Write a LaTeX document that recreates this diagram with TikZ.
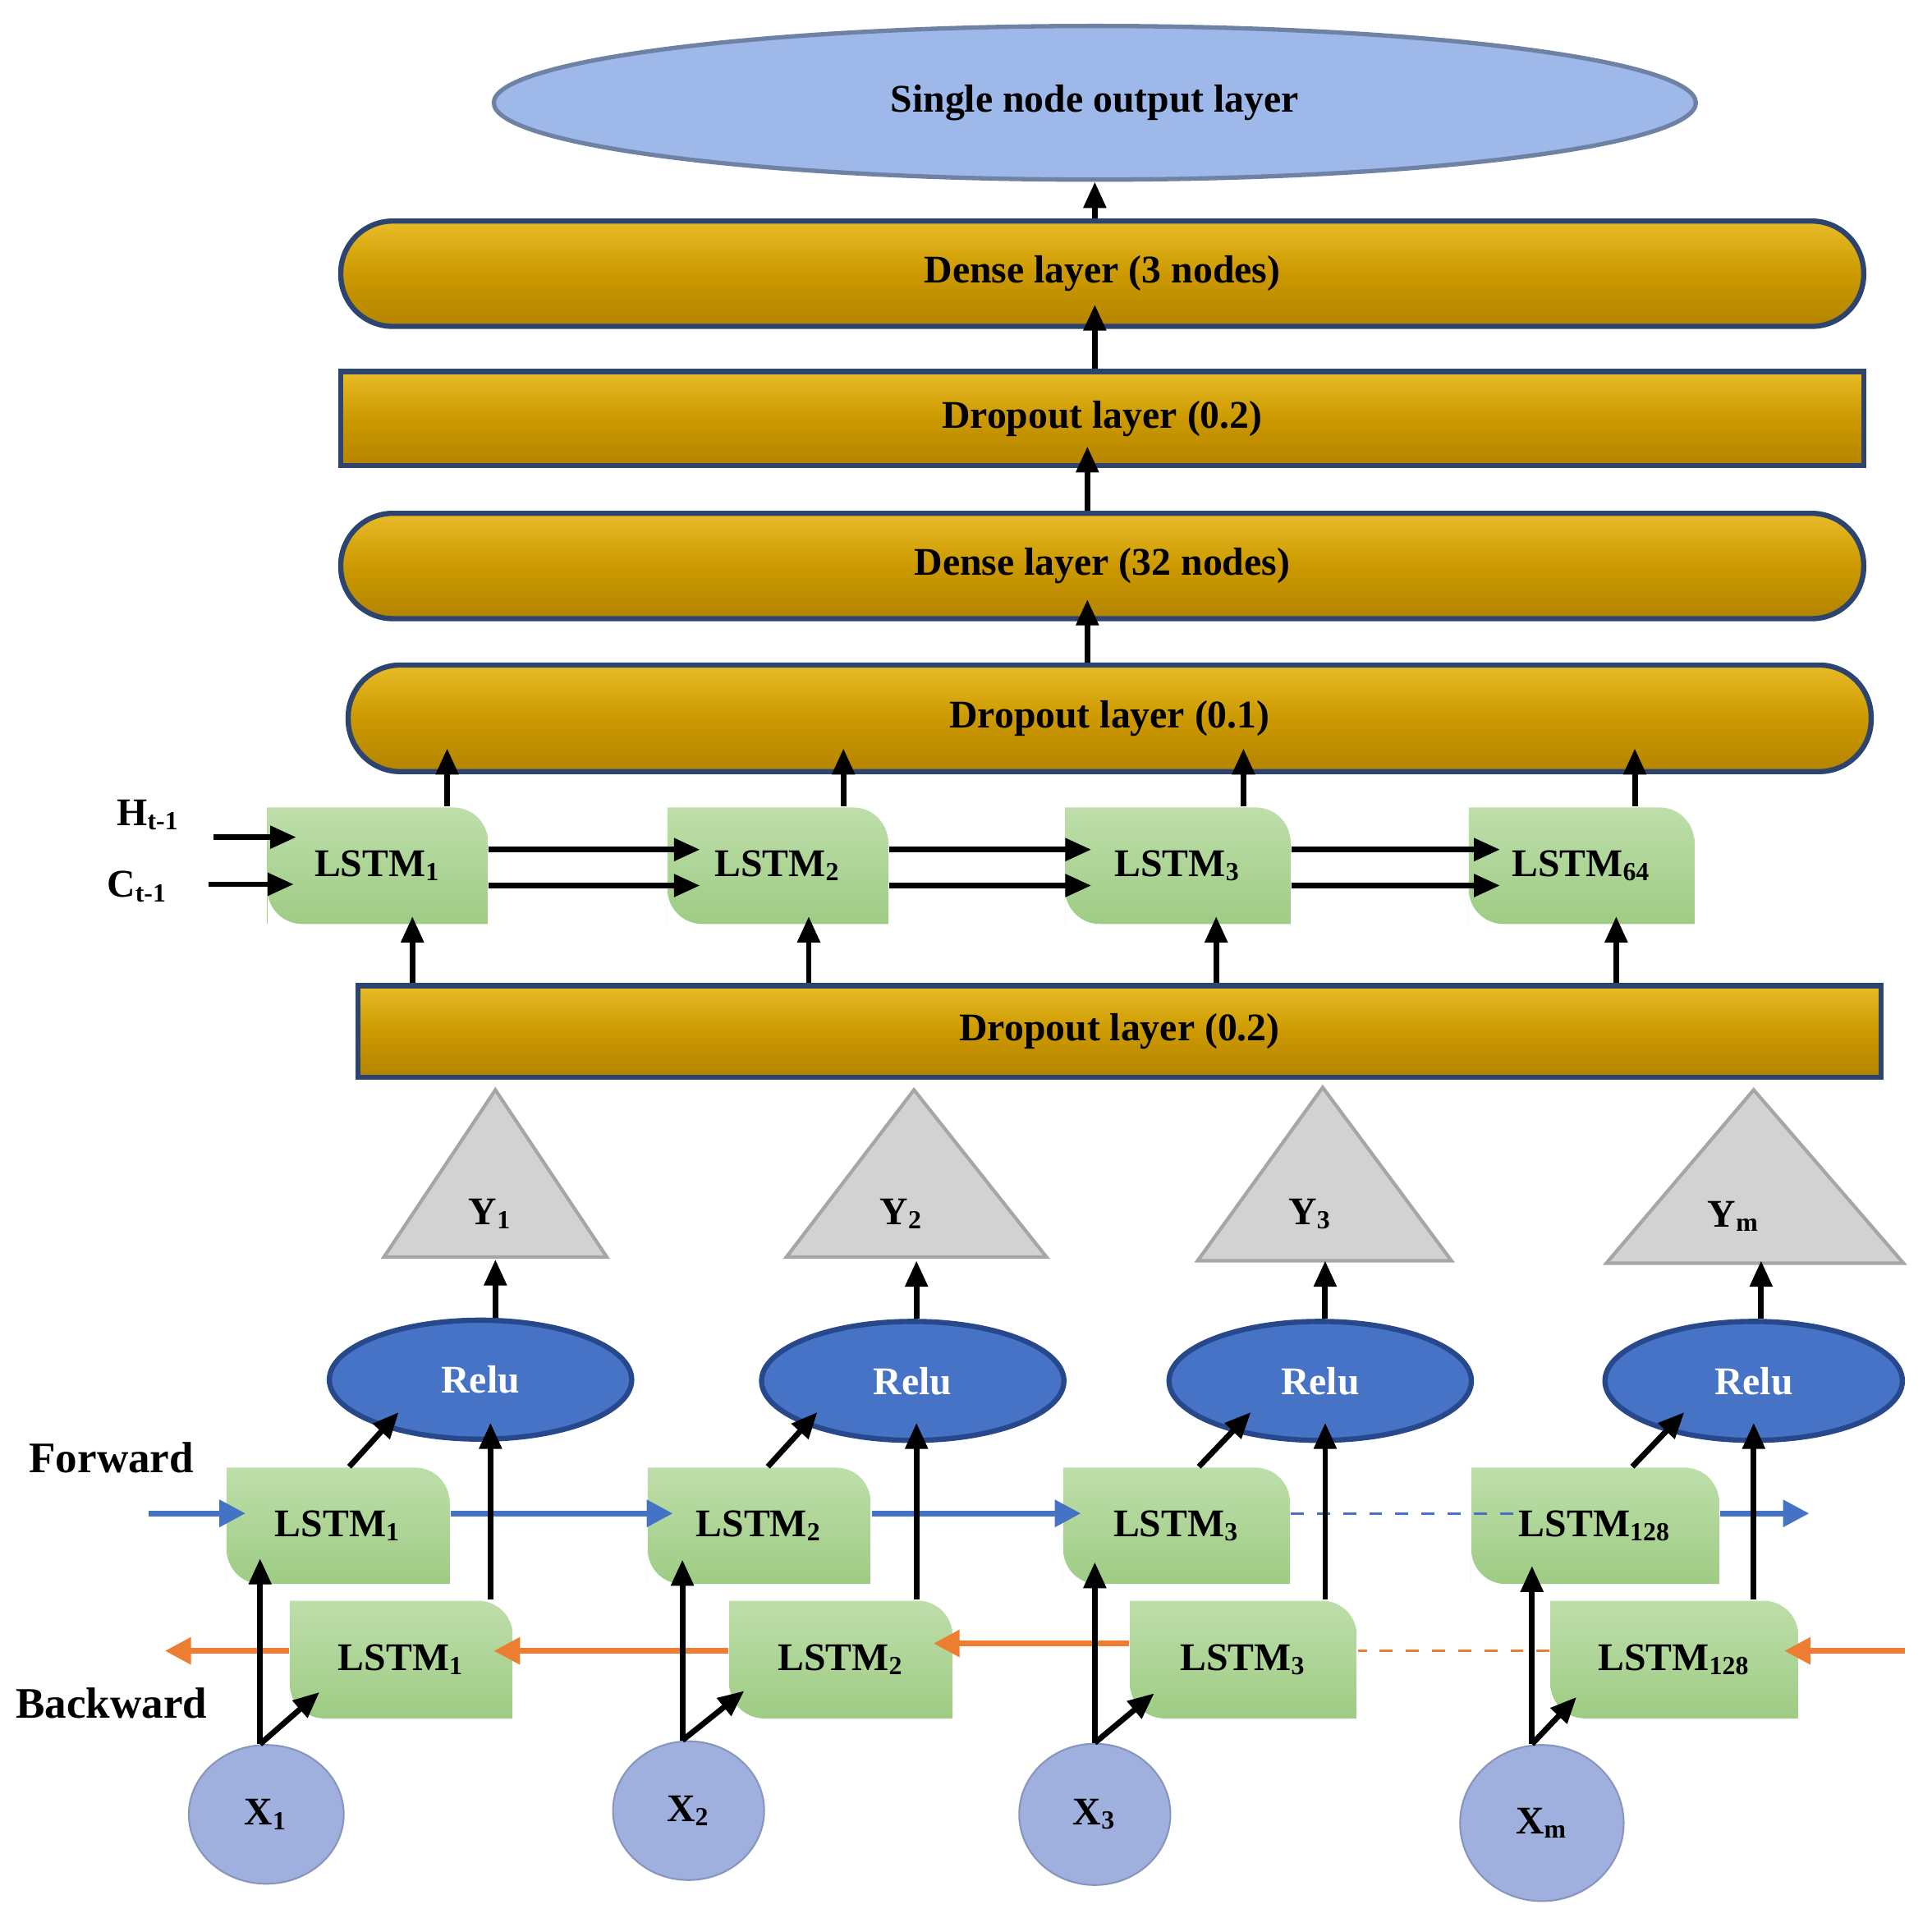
\documentclass[tikz,border=0pt]{standalone}
\usepackage{fontspec}
\setmainfont{Liberation Serif}
\usetikzlibrary{arrows.meta,shapes.geometric}
\definecolor{gold}{RGB}{204,153,0}
\definecolor{goldlight}{RGB}{232,188,40}
\definecolor{golddark}{RGB}{180,132,0}
\definecolor{navy}{RGB}{45,68,110}
\definecolor{lstmtop}{RGB}{190,222,170}
\definecolor{lstmbot}{RGB}{158,204,132}
\definecolor{relublue}{RGB}{70,115,198}
\definecolor{reluedge}{RGB}{40,72,140}
\definecolor{xblue}{RGB}{160,176,222}
\definecolor{outblue}{RGB}{158,184,234}
\definecolor{fwdblue}{RGB}{68,114,196}
\definecolor{bwdorange}{RGB}{237,125,49}
\tikzset{
  lbl/.style={font=\fontsize{9}{10}\selectfont\bfseries},
  bar/.style={draw=navy, line width=1.2pt, top color=goldlight, bottom color=golddark,
    middle color=gold, minimum width=12.29cm, inner sep=0pt, lbl},
  lstm/.style={minimum height=0.94cm, inner sep=0pt, lbl,
    path picture={\shade[top color=lstmtop, bottom color=lstmbot]
      (path picture bounding box.south west) -- (path picture bounding box.north west)
      [rounded corners=0.28cm] -- (path picture bounding box.north east)
      [sharp corners] -- (path picture bounding box.south east)
      [rounded corners=0.28cm] -- (path picture bounding box.south west)
      [sharp corners] -- cycle;}},
  relu/.style={ellipse, draw=reluedge, line width=1.2pt, fill=relublue, text=white,
    minimum width=2.44cm, minimum height=0.96cm, lbl},
  xin/.style={ellipse, fill=xblue, draw=xblue!85!black, line width=0.4pt, inner sep=0pt, lbl},
  tri/.style={fill=gray!35, draw=gray!70, line width=0.8pt},
  arr/.style={-{Triangle[length=6pt,width=5pt]}, line width=1.3pt},
  fwd/.style={-{Triangle[length=6pt,width=6pt]}, line width=1.3pt, fwdblue},
  bwd/.style={-{Triangle[length=6pt,width=6pt]}, line width=1.3pt, bwdorange},
}
\begin{document}
\begin{tikzpicture}[x=0.01cm,y=-0.01cm]
\useasboundingbox (0,0) rectangle (1560,1541);

% output and dense/dropout stack
\node[ellipse, draw=outblue!70!black, line width=1pt, fill=outblue, minimum width=9.7cm,
  minimum height=1.24cm, lbl] (out) at (884,83) {Single node output layer};
\node[bar, rounded corners=0.42cm, minimum height=0.85cm] (d3) at (890,221) {Dense layer (3 nodes)};
\node[bar, minimum height=0.76cm] (dr2) at (890,338) {Dropout layer (0.2)};
\node[bar, rounded corners=0.42cm, minimum height=0.85cm] (d32) at (890,457) {Dense layer (32 nodes)};
\node[bar, rounded corners=0.42cm, minimum height=0.86cm] (dr1) at (896,580) {Dropout layer (0.1)};
\node[bar, minimum height=0.74cm] (dr0) at (904,833) {Dropout layer (0.2)};

\draw[arr] (d3.north -| out.south) -- (out.south);
\draw[arr] (dr2.north -| out.south) -- +(0,-52);
\draw[arr] ([xshift=-0.12cm]d32.north) -- +(0,-52);
\draw[arr] ([xshift=-0.18cm]dr1.north) -- +(0,-51);

% upper LSTM layer
\node[lstm, minimum width=1.78cm] (t1) at (305,699) {LSTM\textsubscript{1}};
\node[lstm, minimum width=1.78cm] (t2) at (628,699) {LSTM\textsubscript{2}};
\node[lstm, minimum width=1.82cm] (t3) at (951,699) {LSTM\textsubscript{3}};
\node[lstm, minimum width=1.82cm] (t4) at (1277,699) {LSTM\textsubscript{64}};
\node[lbl, anchor=west] (h) at (82,658) {H\textsubscript{t-1}};
\node[lbl, anchor=west] (c) at (74,716) {C\textsubscript{t-1}};

\draw[arr] ([xshift=-0.43cm,yshift=0.23cm]t1.west) -- ([xshift=0.24cm,yshift=0.23cm]t1.west);
\draw[arr] ([xshift=-0.47cm,yshift=-0.15cm]t1.west) -- ([xshift=0.22cm,yshift=-0.15cm]t1.west);
\draw[arr] ([yshift=0.13cm]t1.east) -- ([xshift=0.27cm,yshift=0.13cm]t2.west);
\draw[arr] ([yshift=-0.16cm]t1.east) -- ([xshift=0.27cm,yshift=-0.16cm]t2.west);
\draw[arr] ([yshift=0.13cm]t2.east) -- ([xshift=0.22cm,yshift=0.13cm]t3.west);
\draw[arr] ([yshift=-0.16cm]t2.east) -- ([xshift=0.22cm,yshift=-0.16cm]t3.west);
\draw[arr] ([yshift=0.13cm]t3.east) -- ([xshift=0.26cm,yshift=0.13cm]t4.west);
\draw[arr] ([yshift=-0.16cm]t3.east) -- ([xshift=0.26cm,yshift=-0.16cm]t4.west);

\draw[arr] ([xshift=0.56cm]t1.north) -- +(0,-47);
\draw[arr] ([xshift=0.53cm]t2.north) -- +(0,-47);
\draw[arr] ([xshift=0.53cm]t3.north) -- +(0,-47);
\draw[arr] ([xshift=0.43cm]t4.north) -- +(0,-47);
\draw[arr] (dr0.north -| 333,0) -- +(0,-54);
\draw[arr] (dr0.north -| 653,0) -- +(0,-54);
\draw[arr] (dr0.north -| 982,0) -- +(0,-54);
\draw[arr] (dr0.north -| 1305,0) -- +(0,-54);

% outputs Y
\draw[tri] (400,880) -- (490,1015) -- (310,1015) -- cycle;
\draw[tri] (738,880) -- (845,1015) -- (635,1015) -- cycle;
\draw[tri] (1068,878) -- (1172,1018) -- (967,1018) -- cycle;
\draw[tri] (1416,880) -- (1537,1020) -- (1297,1020) -- cycle;
\node[lbl] (y1) at (396,980) {Y\textsubscript{1}};
\node[lbl] (y2) at (728,980) {Y\textsubscript{2}};
\node[lbl] (y3) at (1058,980) {Y\textsubscript{3}};
\node[lbl] (y4) at (1400,982) {Y\textsubscript{m}};

% relu
\node[relu] (r1) at (388,1114) {Relu};
\node[relu] (r2) at (737,1115) {Relu};
\node[relu] (r3) at (1066,1115) {Relu};
\node[relu, minimum width=2.4cm] (r4) at (1416,1115) {Relu};
\draw[arr] ([xshift=0.12cm]r1.north) -- +(0,-47);
\draw[arr] ([xshift=0.03cm]r2.north) -- +(0,-47);
\draw[arr] ([xshift=0.04cm]r3.north) -- +(0,-47);
\draw[arr] ([xshift=0.06cm]r4.north) -- +(0,-47);

% bidirectional LSTM layer
\node[lbl, font=\fontsize{10}{11}\selectfont\bfseries] (fw) at (90,1177) {Forward};
\node[lbl, font=\fontsize{10}{11}\selectfont\bfseries] (bw) at (90,1375) {Backward};
\node[lstm, minimum width=1.8cm, minimum height=0.94cm] (f1) at (273,1232) {LSTM\textsubscript{1}};
\node[lstm, minimum width=1.8cm, minimum height=0.94cm] (f2) at (613,1232) {LSTM\textsubscript{2}};
\node[lstm, minimum width=1.83cm, minimum height=0.94cm] (f3) at (950,1232) {LSTM\textsubscript{3}};
\node[lstm, minimum width=2.0cm, minimum height=0.94cm] (f4) at (1288,1232) {LSTM\textsubscript{128}};
\node[lstm, minimum width=1.8cm, minimum height=0.95cm] (b1) at (324,1340) {LSTM\textsubscript{1}};
\node[lstm, minimum width=1.8cm, minimum height=0.95cm] (b2) at (679,1340) {LSTM\textsubscript{2}};
\node[lstm, minimum width=1.83cm, minimum height=0.95cm] (b3) at (1004,1340) {LSTM\textsubscript{3}};
\node[lstm, minimum width=2.0cm, minimum height=0.95cm] (b4) at (1352,1340) {LSTM\textsubscript{128}};

\draw[fwd] ([xshift=-0.62cm,yshift=0.1cm]f1.west) -- ([xshift=0.16cm,yshift=0.1cm]f1.west);
\draw[fwd] ([yshift=0.1cm]f1.east) -- ([xshift=0.21cm,yshift=0.1cm]f2.west);
\draw[fwd] ([yshift=0.1cm]f2.east) -- ([xshift=0.15cm,yshift=0.1cm]f3.west);
\draw[fwdblue, dashed, line width=0.5pt] ([yshift=0.1cm]f3.east) -- ([xshift=0.37cm,yshift=0.1cm]f4.west);
\draw[fwd] ([yshift=0.1cm]f4.east) -- ([xshift=0.72cm,yshift=0.1cm]f4.east);
\draw[bwd] ([xshift=0.85cm,yshift=0.07cm]b4.east) -- ([xshift=-0.12cm,yshift=0.07cm]b4.east);
\draw[bwdorange, dashed, line width=0.5pt] ([yshift=0.07cm]b4.west) -- ([yshift=0.07cm]b3.east);
\draw[bwd] ([yshift=0.13cm]b3.west) -- ([xshift=-0.16cm,yshift=0.13cm]b2.east);
\draw[bwd] ([yshift=0.07cm]b2.west) -- ([xshift=-0.16cm,yshift=0.07cm]b1.east);
\draw[bwd] ([yshift=0.07cm]b1.west) -- ([xshift=-1.0cm,yshift=0.07cm]b1.west);

\draw[arr] ([xshift=0.09cm]f1.north) -- +(40,-44);
\draw[arr] ([xshift=0.07cm]f2.north) -- +(40,-44);
\draw[arr] ([xshift=0.18cm]f3.north) -- +(42,-44);
\draw[arr] ([xshift=0.30cm]f4.north) -- +(42,-44);
\draw[arr] ([xshift=0.72cm]b1.north) -- +(0,-143);
\draw[arr] ([xshift=0.61cm]b2.north) -- +(0,-143);
\draw[arr] ([xshift=0.66cm]b3.north) -- +(0,-143);
\draw[arr] ([xshift=0.64cm]b4.north) -- +(0,-143);

% inputs X
\node[xin, minimum width=1.25cm, minimum height=1.12cm] (x1) at (215,1465) {X\textsubscript{1}};
\node[xin, minimum width=1.22cm, minimum height=1.12cm] (x2) at (556,1462) {X\textsubscript{2}};
\node[xin, minimum width=1.22cm, minimum height=1.14cm] (x3) at (884,1465) {X\textsubscript{3}};
\node[xin, minimum width=1.32cm, minimum height=1.26cm] (x4) at (1245,1472) {X\textsubscript{m}};

\draw[arr] ([xshift=-0.05cm]x1.north) -- +(0,-150);
\draw[arr] ([xshift=-0.05cm]x1.north) -- +(48,-42);
\draw[arr] ([xshift=-0.05cm]x2.north) -- +(0,-146);
\draw[arr] ([xshift=-0.05cm]x2.north) -- +(50,-40);
\draw[arr] (x3.north) -- +(0,-146);
\draw[arr] (x3.north) -- +(48,-40);
\draw[arr] ([xshift=-0.08cm]x4.north) -- +(0,-144);
\draw[arr] ([xshift=-0.08cm]x4.north) -- +(36,-38);
\end{tikzpicture}
\end{document}
